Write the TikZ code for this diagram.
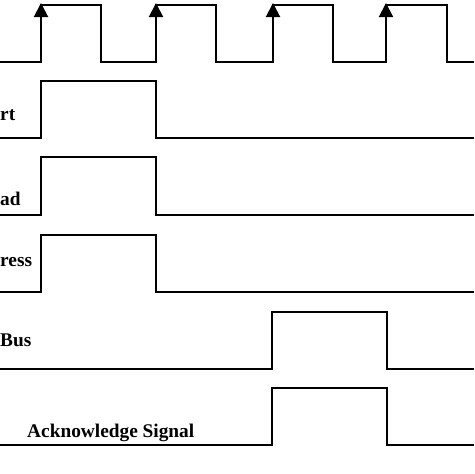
\documentclass[tikz,border=0pt]{standalone}
\usepackage{fontspec}
\setmainfont{Liberation Serif}
\usepackage{tikz}
\usetikzlibrary{arrows.meta,positioning}

\begin{document}
\begin{tikzpicture}[x=0.03cm, y=-0.03cm,
      wave/.style={line width=1.7pt, line join=miter},
      edge/.style={line width=1.7pt, -{Triangle[width=4.2mm, length=4.2mm]}},
      sig/.style={font=\fontsize{16.5}{19}\selectfont\bfseries, anchor=base west, inner sep=0pt}]
      \useasboundingbox (0,0) rectangle (474,474);

      % clock
      \draw[wave] (0,62)
      foreach \r/\f in {41/101, 156/216, 273/333, 386/447} {
        -- (\r,62) -- (\r,5) -- (\f,5) -- (\f,62)
      } -- (474,62);
      \foreach \r in {41, 156, 273, 386} {
        \draw[edge] (\r,40) -- (\r,3);
      };

      % signals
      \foreach \hi/\lo/\r/\f in {81/138/41/156, 157/215/41/156, 235/292/41/156,
        312/369/272/387, 388/445/272/387} {
        \draw[wave] (0,\lo) -- (\r,\lo) -- (\r,\hi) -- (\f,\hi) -- (\f,\lo) -- (474,\lo);
      };

      \node[sig] (start) at (0,120) {rt};
      \node[sig] (read) at (0,205) {ad};
      \node[sig] (addr) at (0,266) {ress};
      \node[sig] (bus) at (0,346) {Bus};
      \node[sig] (ack) at (27,437) {Acknowledge Signal};
    \end{tikzpicture}
\end{document}
